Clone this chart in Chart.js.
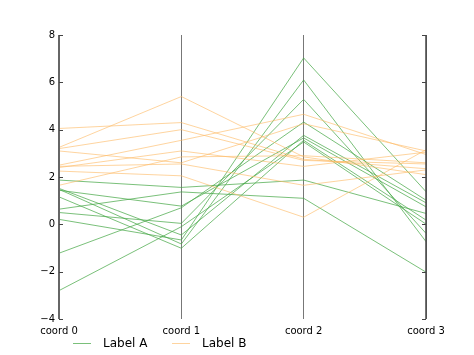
<!DOCTYPE html>
<html>
<head>
<meta charset="utf-8">
<script src="https://cdn.jsdelivr.net/npm/chart.js@4.4.0/dist/chart.umd.min.js"></script>
<style>
html,body{margin:0;padding:0;background:#fff;}
#wrap{width:474px;height:355px;position:relative;}
</style>
</head>
<body>
<div id="wrap"><canvas id="c" width="474" height="355"></canvas></div>
<script>
// Axis categories
const categories = ["coord 0", "coord 1", "coord 2", "coord 3"];
const yTicks = [-4, -2, 0, 2, 4, 6, 8];
const classNames = ["Label A", "Label B"];

// Label A (green) lines: values at coord 0..3
const labelA = [
  [1.87, 1.56, 1.87, 0.46],
  [1.52, -0.45, 3.76, 0.91],
  [1.48, -0.83, 6.10, -0.73],
  [1.44, 0.77, 3.65, 0.74],
  [1.16, -1.01, 3.55, 0.18],
  [0.64, 1.37, 1.10, -2.02],
  [0.50, 0.04, 5.28, -0.38],
  [0.21, -0.66, 7.03, 1.38],
  [-1.22, 0.70, 4.32, 1.02],
  [-2.80, -0.10, 3.48, 0.01]
];

// Label B (orange) lines: values at coord 0..3
const labelB = [
  [4.05, 4.30, 2.75, 2.35],
  [3.25, 5.40, 2.85, 2.10],
  [3.20, 4.00, 2.70, 2.55],
  [3.10, 2.60, 4.25, 3.10],
  [2.50, 3.55, 4.65, 2.95],
  [2.40, 3.10, 2.45, 3.05],
  [2.25, 2.05, 0.30, 3.15],
  [1.65, 2.85, 2.90, 2.60],
  [2.45, 2.55, 1.65, 2.30]
];

const colorA = 'rgba(70,168,70,0.72)';
const colorB = 'rgba(253,185,100,0.62)';

function toPoints(vals){ return vals.map((v,i)=>({x:i, y:v})); }

const datasets = [];
labelB.forEach((row)=>datasets.push({label: classNames[1], data: toPoints(row), borderColor: colorB, borderWidth: 1, pointRadius: 0, fill: false, tension: 0}));
labelA.forEach((row)=>datasets.push({label: classNames[0], data: toPoints(row), borderColor: colorA, borderWidth: 1, pointRadius: 0, fill: false, tension: 0}));

const frame = {
  id: 'frame',
  afterDraw(chart){
    const ctx = chart.ctx;
    const a = chart.chartArea;
    const y = chart.scales.y;
    ctx.save();
    // left spine
    ctx.strokeStyle = '#666';
    ctx.lineWidth = 2;
    ctx.beginPath(); ctx.moveTo(a.left, a.top); ctx.lineTo(a.left, a.bottom); ctx.stroke();
    // right spine
    ctx.strokeStyle = '#444';
    ctx.lineWidth = 1.5;
    ctx.beginPath(); ctx.moveTo(a.right, a.top); ctx.lineTo(a.right, a.bottom); ctx.stroke();
    // inward ticks
    ctx.lineWidth = 1;
    ctx.strokeStyle = '#444';
    yTicks.forEach(t=>{
      const py = Math.round(y.getPixelForValue(t)) + 0.5;
      ctx.beginPath(); ctx.moveTo(a.left, py); ctx.lineTo(a.left+4, py); ctx.stroke();
      ctx.beginPath(); ctx.moveTo(a.right, py); ctx.lineTo(a.right-4, py); ctx.stroke();
    });
    // legend
    ctx.font = '12px "DejaVu Sans", sans-serif';
    ctx.textBaseline = 'middle';
    ctx.fillStyle = '#000';
    const ly = 343.5;
    const items = [{c: colorA, t: classNames[0], x: 73}, {c: colorB, t: classNames[1], x: 172}];
    items.forEach(it=>{
      ctx.strokeStyle = it.c; ctx.lineWidth = 1;
      ctx.beginPath(); ctx.moveTo(it.x, ly); ctx.lineTo(it.x+18, ly); ctx.stroke();
      ctx.fillText(it.t, it.x+30, ly);
    });
    ctx.restore();
  }
};

new Chart(document.getElementById('c'), {
  type: 'line',
  data: { datasets },
  options: {
    responsive: false,
    animation: false,
    devicePixelRatio: 1,
    layout: { padding: { left: 0, right: 48, top: 35, bottom: 0 } },
    plugins: { legend: { display: false }, tooltip: { enabled: false } },
    scales: {
      x: {
        type: 'linear', min: 0, max: 3,
        afterFit: s => { s.height = 36; },
        afterBuildTicks: s => { s.ticks = categories.map((c,i)=>({value:i})); },
        ticks: { callback: v => categories[v], color: '#000', font: { family: 'DejaVu Sans', size: 10 }, padding: 6, maxRotation: 0, autoSkip: false },
        grid: { color: '#777', lineWidth: 1, drawTicks: false },
        border: { display: false }
      },
      y: {
        type: 'linear', min: -4, max: 8,
        afterFit: s => { s.width = 59; },
        afterBuildTicks: s => { s.ticks = yTicks.map(v=>({value:v})); },
        ticks: { callback: v => (v < 0 ? '\u2212' + Math.abs(v) : String(v)), color: '#000', font: { family: 'DejaVu Sans', size: 10 }, padding: 4 },
        grid: { display: false, drawTicks: false },
        border: { display: false }
      }
    }
  },
  plugins: [frame]
});
</script>
</body>
</html>
